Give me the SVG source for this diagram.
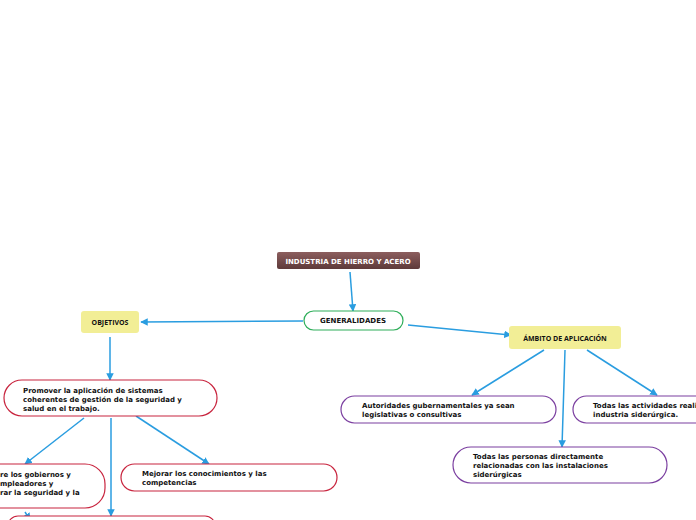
<svg xmlns="http://www.w3.org/2000/svg" width="696" height="520" viewBox="0 0 696 520">
<defs>
<marker id="a" viewBox="0 0 10 10" refX="9" refY="5" markerWidth="5" markerHeight="5" orient="auto"><path d="M0,0L10,5L0,10z" fill="#2a9de0"/></marker>
<linearGradient id="g" x1="0" y1="0" x2="0" y2="1"><stop offset="0" stop-color="#8c5e5e"/><stop offset="1" stop-color="#5e3a3a"/></linearGradient>
</defs>
<style>
text{font-family:"DejaVu Sans",Verdana,sans-serif;font-weight:bold;font-size:7px;fill:#111}
.c{stroke:#2a9de0;stroke-width:1.5;fill:none;marker-end:url(#a)}
.r{fill:#fff;stroke:#c8243e;stroke-width:1.2}
.p{fill:#fff;stroke:#7b3fa0;stroke-width:1.2}
.y{fill:#f2ee96}
</style>
<rect width="696" height="520" fill="#fff"/>
<g id="connectors">
<path class="c" d="M350,272L353,311"/>
<path class="c" d="M303,321L141,322"/>
<path class="c" d="M408,325L511,335"/>
<path class="c" d="M110,337L110,380"/>
<path class="c" d="M84,418L25,464"/>
<path class="c" d="M111,418L111,516"/>
<path class="c" d="M136,416L209,464"/>
<path class="c" d="M25,512L30,520"/>
<path class="c" d="M544,350L472,395"/>
<path class="c" d="M565,350L562,447"/>
<path class="c" d="M587,350L657,395"/>
</g>
<g id="root"><rect x="277" y="252" width="143" height="17" rx="2" fill="url(#g)"/><text x="348" y="263.5" text-anchor="middle" style="fill:#fff">INDUSTRIA DE HIERRO Y ACERO</text></g>
<g id="gen"><rect x="304" y="311" width="99" height="19" rx="9.5" fill="#fff" stroke="#2fae5a" stroke-width="1.2"/><text x="353" y="323" text-anchor="middle">GENERALIDADES</text></g>
<g id="obj"><rect x="81" y="311" width="58" height="22" rx="3" class="y"/><text x="110" y="325" text-anchor="middle" style="font-family:'Open Sans',sans-serif">OBJETIVOS</text></g>
<g id="amb"><rect x="509" y="326" width="112" height="23" rx="3" class="y"/><text x="565" y="341" text-anchor="middle" style="font-family:'Open Sans',sans-serif">ÁMBITO DE APLICACIÓN</text></g>
<g id="o1"><rect x="4" y="380" width="213" height="36" rx="18" class="r"/><text x="23" y="393">Promover la aplicación de sistemas</text><text x="23" y="402">coherentes de gestión de la seguridad y</text><text x="23" y="411">salud en el trabajo.</text></g>
<g id="o2"><rect x="-40" y="464" width="145" height="44" rx="20" class="r"/><text x="0" y="477">re los gobiernos y</text><text x="0" y="486">mpleadores y</text><text x="0" y="495">rar la seguridad y la</text></g>
<g id="o3"><rect x="121" y="464" width="216" height="27" rx="13.5" class="r"/><text x="142" y="476">Mejorar los conocimientos y las</text><text x="142" y="485">competencias</text></g>
<g id="o4"><rect x="8" y="516" width="207" height="20" rx="10" class="r"/></g>
<g id="a1"><rect x="341" y="396" width="215" height="27" rx="13.5" class="p"/><text x="362" y="408">Autoridades gubernamentales ya sean</text><text x="362" y="417">legislativas o consultivas</text></g>
<g id="a2"><rect x="573" y="396" width="140" height="27" rx="13.5" class="p"/><text x="593" y="408">Todas las actividades reali</text><text x="593" y="417">industria siderúrgica.</text></g>
<g id="a3"><rect x="453" y="447" width="214" height="36" rx="18" class="p"/><text x="473" y="459">Todas las personas directamente</text><text x="473" y="468">relacionadas con las instalaciones</text><text x="473" y="477">siderúrgicas</text></g>
</svg>
